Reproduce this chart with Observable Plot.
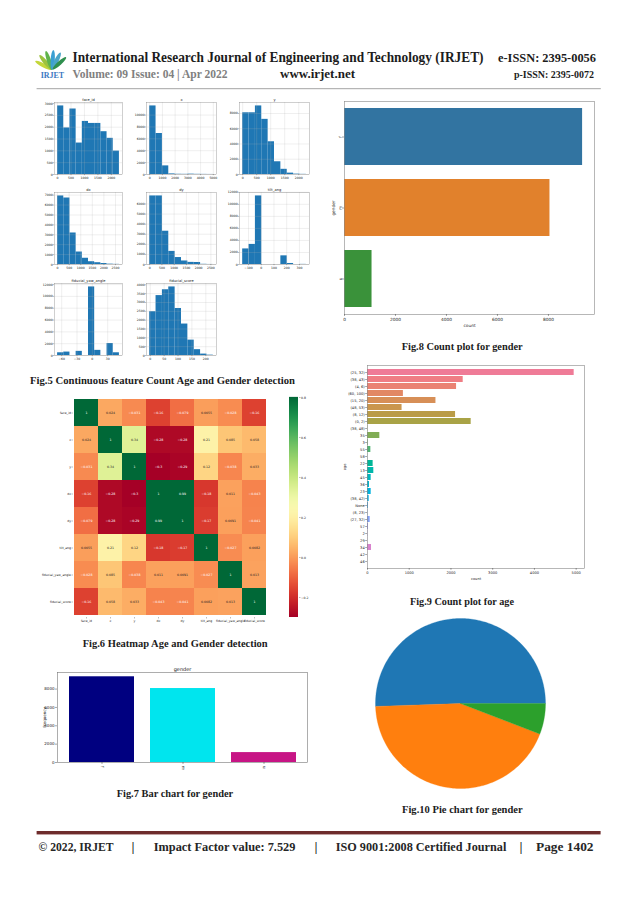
<!DOCTYPE html>
<html><head><meta charset="utf-8">
<script src="https://cdn.jsdelivr.net/npm/d3@7"></script>
<script src="https://cdn.jsdelivr.net/npm/@observablehq/plot@0.6"></script>
<style>
html,body{margin:0;padding:0;background:#fff;}
#page{position:relative;width:638px;height:902px;overflow:hidden;background:#fff;}
#page svg{display:block;overflow:visible;}
</style></head><body><div id="page"></div>
<script>
// ---------- DATA ----------
// Fig.5 histograms (10 bins each)
const histTitles = ["face_id","x","y","dx","dy","tilt_ang","fiducial_yaw_angle","fiducial_score"];
const faceIdCounts = [2900, 1970, 2770, 1330, 2245, 2160, 2160, 1810, 1530, 990];
const xCounts      = [11540, 6900, 1450, 100, 40, 30, 60, 30, 20, 10];
const yCounts      = [8090, 8090, 8990, 7230, 4290, 1670, 680, 180, 50, 20];
const dxCounts     = [6920, 6710, 3180, 1260, 630, 280, 180, 100, 35, 15];
const dyCounts     = [6800, 6800, 3300, 1300, 690, 350, 210, 200, 20, 5];
const tiltCounts   = [2590, 3340, 11400, 0, 0, 0, 1440, 170, 0, 20];
const yawCounts    = [460, 580, 0, 700, 0, 11600, 870, 0, 2030, 460];
const scoreCounts  = [2480, 3390, 3720, 3880, 2660, 1780, 870, 330, 80, 20];
const histRanges = [[0,2300],[0,5000],[0,2270],[0,2670],[0,2600],[-146,354],[-68,53],[-2,227]];
const histXTicks = [[0,500,1000,1500,2000],[0,1000,2000,3000,4000,5000],[0,500,1000,1500,2000],
  [0,500,1000,1500,2000,2500],[0,500,1000,1500,2000,2500],[-100,0,100,200,300],[-60,-30,0,30],[0,50,100,150,200]];
const histYTicks = [[0,500,1000,1500,2000,2500,3000],[0,2000,4000,6000,8000,10000],[0,2000,4000,6000,8000],
  [0,1000,2000,3000,4000,5000,6000,7000],[0,1000,2000,3000,4000,5000,6000],[0,2000,4000,6000,8000,10000,12000],
  [0,2000,4000,6000,8000,10000,12000],[0,500,1000,1500,2000,2500,3000,3500,4000]];

// Gender counts (Fig.7, Fig.8, Fig.10)
const genders = ["f","m","u"];
const genderCounts = [9340, 8060, 1080];

// Age counts (Fig.9)
const ageCats = ["(25, 32)","(38, 43)","(4, 6)","(60, 100)","(15, 20)","(48, 53)","(8, 12)","(0, 2)","(38, 48)",
  "35","3","55","58","22","13","45","36","23","(38, 42)","None","(8, 23)","(27, 32)","57","2","29","34","42","46"];
const ageCounts = [4952, 2293, 2134, 860, 1640, 828, 2110, 2484, 6, 295, 16, 80, 3, 135, 151, 88, 48, 88, 40, 24, 8, 64, 24, 8, 3, 96, 2, 1];

// Correlation heatmap (Fig.6)
const heatLabels = ["face_id","x","y","dx","dy","tilt_ang","fiducial_yaw_angle","fiducial_score"];
const corrMatrix = [
  [1, 0.024, -0.031, -0.16, -0.079, 0.0055, -0.028, -0.16],
  [0.024, 1, 0.34, -0.28, -0.28, 0.21, 0.085, 0.058],
  [-0.031, 0.34, 1, -0.3, -0.29, 0.12, -0.038, 0.033],
  [-0.16, -0.28, -0.3, 1, 0.99, -0.18, 0.011, -0.043],
  [-0.079, -0.28, -0.29, 0.99, 1, -0.17, 0.0091, -0.041],
  [0.0055, 0.21, 0.12, -0.18, -0.17, 1, -0.027, 0.0082],
  [-0.028, 0.085, -0.038, 0.011, 0.0091, -0.027, 1, 0.013],
  [-0.16, 0.058, 0.033, -0.043, -0.041, 0.0082, 0.013, 1]
];
const colorbarTicks = [-0.2, 0, 0.2, 0.4, 0.6, 0.8];

// ---------- STYLES ----------
const histColor = "#1f77b4";
const countColors = ["#3274a1", "#e1812c", "#3a923a"];
const barColors = ["#000080", "#00e5ee", "#c71585"];
const pieColors = ["#1f77b4", "#ff7f0e", "#2ca02c"];
const ageColors = ageCats.map((_, i) => d3.hcl(8 + i * 360 / ageCats.length, 48, 66).formatHex());

const page = document.getElementById("page");
function place(node, left, top) {
  const d = document.createElement("div");
  d.style.cssText = `position:absolute;left:${left}px;top:${top}px;`;
  d.appendChild(node); page.appendChild(d);
}
const st = fs => ({fontFamily: "'DejaVu Sans', sans-serif", fontSize: fs + "px", color: "#222", background: "transparent", overflow: "visible"});
const mfmt = d => (d < 0 ? "\u2212" : "") + Math.abs(d);

// ---------- Fig.5 histograms ----------
const histCounts = [faceIdCounts, xCounts, yCounts, dxCounts, dyCounts, tiltCounts, yawCounts, scoreCounts];
const histFrames = [[54,102,68,72],[146,102,70,72],[239,102,70,72],[54,192,68,72],[146,192,70,72],[239,192,70,72],[54,283,68,72],[146,283,70,72]];
histCounts.forEach((counts, i) => {
  const [lo, hi] = histRanges[i];
  const bw = (hi - lo) / counts.length;
  const bins = counts.map((c, k) => ({x1: lo + k * bw, x2: lo + (k + 1) * bw, c}));
  const pad = (hi - lo) * 0.05;
  const [fx, fy, fw, fh] = histFrames[i];
  const ml = 22, mr = 3, mt = 8, mb = 9;
  const p = Plot.plot({
    width: fw + ml + mr, height: fh + mt + mb,
    marginLeft: ml, marginRight: mr, marginTop: mt, marginBottom: mb,
    style: st(3.1),
    x: {domain: [lo - pad, hi + pad], label: null},
    y: {domain: [0, d3.max(counts) * 1.05], label: null},
    marks: [
      Plot.rectY(bins, {x1: "x1", x2: "x2", y: "c", fill: histColor}),
      Plot.gridX(histXTicks[i], {stroke: "#b0b0b0", strokeOpacity: 0.7, strokeWidth: 0.3}),
      Plot.gridY(histYTicks[i], {stroke: "#b0b0b0", strokeOpacity: 0.7, strokeWidth: 0.3}),
      Plot.frame({stroke: "#777", strokeWidth: 0.35}),
      Plot.axisX(histXTicks[i], {tickSize: 1.2, tickPadding: 0.6, strokeWidth: 0.3, tickFormat: mfmt, label: null}),
      Plot.axisY(histYTicks[i], {tickSize: 1.2, tickPadding: 0.6, strokeWidth: 0.3, tickFormat: mfmt, label: null}),
      Plot.text([histTitles[i]], {frameAnchor: "top", dy: -1.5, lineAnchor: "bottom", fontSize: 3.6})
    ]
  });
  place(p, fx - ml, fy - mt);
});

// ---------- Fig.8 count plot gender ----------
const genderTable = genders.map((g, i) => ({gender: g, count: genderCounts[i]}));
{
  const ml = 24, mr = 4, mt = 4, mb = 16;
  const p = Plot.plot({
    width: 250 + ml + mr, height: 213 + mt + mb, marginLeft: ml, marginRight: mr, marginTop: mt, marginBottom: mb,
    style: st(4.3),
    x: {domain: [0, d3.max(genderCounts) * 1.05], label: null},
    y: {domain: genders, paddingInner: 0.2, paddingOuter: 0.1, label: null},
    color: {domain: genders, range: countColors},
    marks: [
      Plot.barX(genderTable, {x: "count", y: "gender", fill: "gender"}),
      Plot.frame({stroke: "#888", strokeWidth: 0.6}),
      Plot.axisX([0, 2000, 4000, 6000, 8000], {tickSize: 2, tickPadding: 1, strokeWidth: 0.4, tickFormat: d => String(d),
        label: "count", labelAnchor: "center", labelOffset: 12, labelArrow: false}),
      Plot.axisY({tickSize: 2, tickPadding: 1, strokeWidth: 0.4, tickRotate: -90,
        label: "gender", labelAnchor: "center", labelOffset: 13, labelArrow: false})
    ]
  });
  place(p, 344 - ml, 101 - mt);
}

// ---------- Fig.6 heatmap ----------
const colorOpts = {type: "linear", scheme: "RdYlGn", domain: [-0.3, 0.8], clamp: true};
{
  const cells = [];
  heatLabels.forEach((r, i) => heatLabels.forEach((c, j) => cells.push({row: r, col: c, v: corrMatrix[i][j]})));
  const interp = d3.interpolateRdYlGn;
  const lum = v => {
    const t = Math.max(0, Math.min(1, (v + 0.3) / 1.1));
    const c = d3.rgb(interp(t));
    const f = x => { x /= 255; return x <= 0.03928 ? x / 12.92 : Math.pow((x + 0.055) / 1.055, 2.4); };
    return 0.2126 * f(c.r) + 0.7152 * f(c.g) + 0.0722 * f(c.b);
  };
  const fmt = v => d3.format(".2~g")(v);
  const ml = 43, mr = 4, mt = 5, mb = 14;
  const p = Plot.plot({
    width: 194 + ml + mr, height: 220 + mt + mb, marginLeft: ml, marginRight: mr, marginTop: mt, marginBottom: mb,
    style: st(3.1),
    x: {domain: heatLabels, padding: 0, label: null},
    y: {domain: heatLabels, padding: 0, label: null},
    color: colorOpts,
    marks: [
      Plot.cell(cells, {x: "col", y: "row", fill: "v", inset: 0}),
      Plot.text(cells.filter(d => lum(d.v) > 0.408), {x: "col", y: "row", text: d => fmt(d.v), fill: "#262626", fontSize: 3.2}),
      Plot.text(cells.filter(d => lum(d.v) <= 0.408), {x: "col", y: "row", text: d => fmt(d.v), fill: "white", fontSize: 3.2}),
      Plot.axisX({tickSize: 1.5, tickPadding: 1, strokeWidth: 0.3, label: null}),
      Plot.axisY({tickSize: 1.5, tickPadding: 1, strokeWidth: 0.3, label: null})
    ]
  });
  place(p, 73 - ml, 397 - mt);

  const cb = d3.range(-0.3, 0.8, 0.005);
  const cbp = Plot.plot({
    width: 9 + 16, height: 220 + 10, marginLeft: 0, marginRight: 16, marginTop: 5, marginBottom: 5,
    style: st(3.1),
    x: {domain: [0, 1], axis: null},
    y: {domain: [-0.3, 0.8], label: null},
    color: colorOpts,
    marks: [
      Plot.rect(cb, {x1: d => 0, x2: d => 1, y1: d => d, y2: d => d + 0.0056, fill: d => d + 0.0025}),
      Plot.axisY(colorbarTicks, {anchor: "right", tickSize: 1.5, tickPadding: 1, strokeWidth: 0.3,
        tickFormat: d => d3.format(".1f")(d), label: null})
    ]
  });
  place(cbp, 289, 397 - 5);
}

// ---------- Fig.9 count plot age ----------
const ageTable = ageCats.map((a, i) => ({age: a, count: ageCounts[i]}));
{
  const ml = 37, mr = 6, mt = 5, mb = 20;
  const p = Plot.plot({
    width: 217 + ml + mr, height: 203 + mt + mb, marginLeft: ml, marginRight: mr, marginTop: mt, marginBottom: mb,
    style: st(3.6),
    x: {domain: [0, d3.max(ageCounts) * 1.05], label: null},
    y: {domain: ageCats, paddingInner: 0.2, paddingOuter: 0.1, label: null},
    color: {domain: ageCats, range: ageColors},
    marks: [
      Plot.barX(ageTable, {x: "count", y: "age", fill: "age"}),
      Plot.frame({stroke: "#888", strokeWidth: 0.6}),
      Plot.axisX([0, 1000, 2000, 3000, 4000, 5000], {tickSize: 1.8, tickPadding: 1, strokeWidth: 0.4, tickFormat: d => String(d),
        label: "count", labelAnchor: "center", labelOffset: 11, labelArrow: false}),
      Plot.axisY({tickSize: 1.8, tickPadding: 1, strokeWidth: 0.4,
        label: "age", labelAnchor: "center", labelOffset: 24, labelArrow: false})
    ]
  });
  place(p, 367 - ml, 365 - mt);
}

// ---------- Fig.7 bar chart gender ----------
{
  const ml = 27, mr = 4, mt = 12, mb = 14;
  const p = Plot.plot({
    width: 250 + ml + mr, height: 90 + mt + mb, marginLeft: ml, marginRight: mr, marginTop: mt, marginBottom: mb,
    style: st(4),
    x: {domain: genders, paddingInner: 0.2, paddingOuter: 0.14, label: null},
    y: {domain: [0, d3.max(genderCounts) * 1.05], label: null},
    color: {domain: genders, range: barColors},
    marks: [
      Plot.barY(genderTable, {x: "gender", y: "count", fill: "gender"}),
      Plot.frame({stroke: "#777", strokeWidth: 0.6}),
      Plot.axisX({tickSize: 2, tickPadding: 1.5, strokeWidth: 0.4, tickRotate: 90, label: null}),
      Plot.axisY([0, 2000, 4000, 6000, 8000], {tickSize: 2, tickPadding: 1, strokeWidth: 0.4, tickFormat: d => String(d),
        label: "Frequency", labelAnchor: "center", labelOffset: 14, labelArrow: false}),
      Plot.text(["gender"], {frameAnchor: "top", dy: -2, lineAnchor: "bottom", fontSize: 5})
    ]
  });
  place(p, 57 - ml, 672 - mt);
}

// ---------- Fig.10 pie chart gender ----------
{
  const total = d3.sum(genderCounts);
  const rows = [];
  let a0 = 0;
  genderCounts.forEach((c, i) => {
    const a1 = a0 + c / total * 2 * Math.PI;
    const steps = Math.max(2, Math.ceil((a1 - a0) / 0.02));
    rows.push({g: genders[i], x: 0, y: 0});
    for (let k = 0; k <= steps; k++) {
      const a = a0 + (a1 - a0) * k / steps;
      rows.push({g: genders[i], x: Math.cos(a), y: Math.sin(a)});
    }
    rows.push({g: genders[i], x: 0, y: 0});
    a0 = a1;
  });
  const p = Plot.plot({
    width: 170, height: 170, margin: 0,
    style: st(4),
    x: {domain: [-1, 1], axis: null},
    y: {domain: [-1, 1], axis: null},
    color: {domain: genders, range: pieColors},
    marks: [Plot.line(rows, {x: "x", y: "y", z: "g", fill: "g", stroke: "g", strokeWidth: 0.3, curve: "linear"})]
  });
  place(p, 375, 618);
}

// ---------- page text (header, captions, footer) ----------
const ov = document.createElementNS("http://www.w3.org/2000/svg", "svg");
ov.setAttribute("width", 638); ov.setAttribute("height", 902);
ov.style.cssText = "position:absolute;left:0;top:0;pointer-events:none;";
const ser = "font-family=\"'Liberation Serif','DejaVu Serif',serif\" font-weight=\"bold\"";
function T(x, y, w, fs, fill, s) {
  return `<text x="${x}" y="${y}" ${ser} font-size="${fs}" fill="${fill}" data-w="${w}">${s}</text>`;
}
ov.innerHTML = `
<g transform="translate(52,70)">
  <ellipse cx="0" cy="-10" rx="2" ry="9" fill="#c4d63a" transform="rotate(-62)"/>
  <ellipse cx="0" cy="-10" rx="2.1" ry="9.5" fill="#9cc23e" transform="rotate(-40)"/>
  <ellipse cx="0" cy="-10" rx="2.1" ry="10" fill="#5fb34a" transform="rotate(-18)"/>
  <ellipse cx="0" cy="-10" rx="2.1" ry="10" fill="#3a9fd3" transform="rotate(4)"/>
  <ellipse cx="0" cy="-10" rx="2.1" ry="9.5" fill="#4aa5c8" transform="rotate(26)"/>
  <ellipse cx="0" cy="-10" rx="2" ry="9" fill="#2f8f4e" transform="rotate(48)"/>
</g>
${T(40.7, 78, 23.5, 9, "#3b78c2", "IRJET")}
${T(72.5, 62, 411, 14, "#1c1c1c", "International Research Journal of Engineering and Technology (IRJET)")}
${T(498, 62, 98, 12.5, "#1c1c1c", "e-ISSN: 2395-0056")}
${T(72.5, 78, 155, 11.5, "#808080", "Volume: 09 Issue: 04 | Apr 2022")}
${T(280, 78, 75, 11.5, "#1c1c1c", "www.irjet.net")}
${T(514, 78, 80, 11.5, "#1c1c1c", "p-ISSN: 2395-0072")}
<line x1="36.6" x2="600.8" y1="88.7" y2="88.7" stroke="#9a9a9a" stroke-width="0.9"/>
${T(30, 384, 265, 12.5, "#1c1c1c", "Fig.5 Continuous feature Count Age and Gender detection")}
${T(401.7, 350, 121, 12.5, "#1c1c1c", "Fig.8 Count plot for gender")}
${T(82.7, 647, 185, 12.5, "#1c1c1c", "Fig.6 Heatmap Age and Gender detection")}
${T(410, 604.5, 104, 12.5, "#1c1c1c", "Fig.9 Count plot for age")}
${T(116.7, 797, 116.5, 12.5, "#1c1c1c", "Fig.7 Bar chart for gender")}
${T(402, 813, 120.7, 12.5, "#1c1c1c", "Fig.10 Pie chart for gender")}
<rect x="36.6" y="831" width="564" height="3" fill="#6e2c2c"/>
<rect x="36.6" y="834" width="564" height="0.8" fill="#b58c8c"/>
${T(38.6, 851, 75, 12, "#262626", "\u00a9 2022, IRJET")}
${T(131.5, 851, 3, 12, "#262626", "|")}
${T(153.7, 851, 141.8, 12, "#262626", "Impact Factor value: 7.529")}
${T(314.5, 851, 3, 12, "#262626", "|")}
${T(335.8, 851, 170.5, 12, "#262626", "ISO 9001:2008 Certified Journal")}
${T(519.5, 851, 3, 12, "#262626", "|")}
${T(536, 851, 57.5, 12, "#262626", "Page 1402")}
`;
page.appendChild(ov);
// fit each page text to its measured width without heavy glyph squeezing
ov.querySelectorAll("text[data-w]").forEach(t => {
  const w = +t.dataset.w, fs = +t.getAttribute("font-size");
  const nat = t.getComputedTextLength();
  if (nat > 0) {
    const nfs = fs * Math.min(1, 1.04 * w / nat);
    t.setAttribute("font-size", nfs.toFixed(2));
  }
  t.setAttribute("textLength", w);
  t.setAttribute("lengthAdjust", "spacingAndGlyphs");
});
</script></body></html>
